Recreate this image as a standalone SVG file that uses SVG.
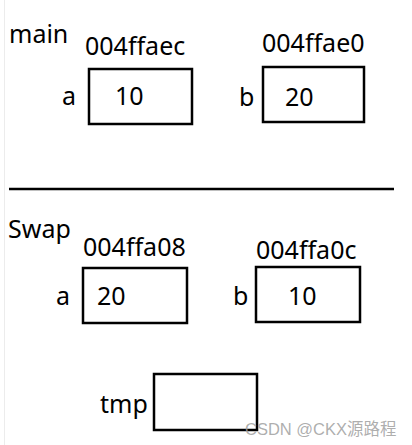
<svg xmlns="http://www.w3.org/2000/svg" width="412" height="445" viewBox="0 0 412 445">
<style>
text{font-family:"Noto Sans","Open Sans","Liberation Sans",sans-serif;font-size:25px;fill:#000}
.box{fill:#fff;stroke:#000;stroke-width:2.5}
.wm{font-family:"Liberation Sans","Noto Sans CJK SC",sans-serif;font-size:16.5px;fill:#a0a0a0;fill-opacity:0.85}
</style>
<rect width="412" height="445" fill="#fff"/>
<line x1="4.5" y1="0" x2="4.5" y2="445" stroke="#ececec" stroke-width="1"/>
<g id="main-section">
<text x="9" y="43">main</text>
</g>
<g id="main-a">
<text x="85" y="55">004ffaec</text>
<text x="62" y="105">a</text>
<rect class="box" x="89" y="69" width="103" height="55"/>
<text x="115" y="105">10</text>
</g>
<g id="main-b">
<text x="262" y="52">004ffae0</text>
<text x="239" y="106">b</text>
<rect class="box" x="263" y="67" width="101" height="55"/>
<text x="285" y="106">20</text>
</g>
<g id="connectors">
<line x1="9" y1="189" x2="394" y2="189" stroke="#000" stroke-width="2.5"/>
</g>
<g id="swap-section">
<text x="8" y="238">Swap</text>
</g>
<g id="swap-a">
<text x="83" y="256">004ffa08</text>
<text x="56" y="305">a</text>
<rect class="box" x="83" y="268" width="104" height="55"/>
<text x="97" y="305">20</text>
</g>
<g id="swap-b">
<text x="256" y="259">004ffa0c</text>
<text x="233" y="305">b</text>
<rect class="box" x="256" y="267" width="104" height="55"/>
<text x="288" y="305">10</text>
</g>
<g id="swap-tmp">
<text x="100" y="413">tmp</text>
<rect class="box" x="154" y="374" width="103" height="56"/>
</g>
<text class="wm" x="245" y="435">CSDN @CKX源路程</text>
</svg>
